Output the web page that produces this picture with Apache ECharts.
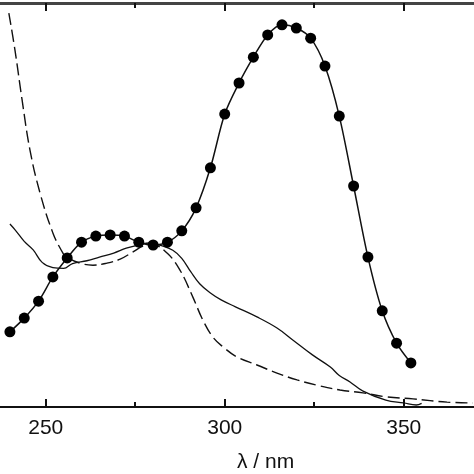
<!DOCTYPE html>
<html><head><meta charset="utf-8">
<script src="https://cdn.jsdelivr.net/npm/echarts@6/dist/echarts.min.js"></script>
<style>html,body{margin:0;padding:0;background:#fff}#c{width:474px;height:474px}</style>
</head><body><div id="c"></div>
<script>
// Dotted curve (filled circles)
const dotNm  = [240,244,248,252,256,260,264,268,272,276,280,284,288,292,296,300,304,308,312,316,320,324,328,332,336,340,344,348,352];
const dotVal = [0.186,0.220,0.262,0.322,0.369,0.408,0.423,0.426,0.423,0.408,0.401,0.408,0.436,0.493,0.592,0.725,0.802,0.866,0.921,0.946,0.938,0.913,0.844,0.720,0.547,0.371,0.238,0.158,0.109];
// Solid thin curve
const solidNm  = [240,241.5,244,246.5,249,252,255,257.5,261.5,265,269,272.5,276,279,282,285.5,288,290.5,293,296,299,303,309,314.5,319,324.5,329.5,332,335,338.5,345,350,353.5,355];
const solidVal = [0.453,0.438,0.41,0.389,0.358,0.345,0.343,0.355,0.362,0.371,0.381,0.393,0.401,0.406,0.40,0.388,0.368,0.335,0.305,0.282,0.265,0.248,0.223,0.196,0.166,0.129,0.099,0.078,0.062,0.040,0.017,0.010,0.005,0.009];
// Dashed curve
const dashNm  = [239.7,241.4,243.4,245.6,248.4,252,254.8,255.9,259.6,263.2,267.1,270.8,274.4,277.2,280,283.9,287.5,291.1,293.9,296.7,299.5,303.4,309,314.6,320.2,325.8,332.2,338.6,345.3,352.6,362.1,369.3];
const dashVal = [0.975,0.884,0.760,0.636,0.530,0.431,0.381,0.371,0.356,0.351,0.356,0.366,0.384,0.398,0.401,0.381,0.339,0.272,0.215,0.173,0.149,0.124,0.104,0.084,0.067,0.054,0.042,0.035,0.025,0.020,0.012,0.010];
// Axis ticks
const majorTicks = [250,300,350];
const minorTicks = [275,325];

const XMIN = 237.23, XMAX = 369.63;
const pairs = (xs, ys) => xs.map((x, i) => [x, ys[i]]);

const chart = echarts.init(document.getElementById('c'), null, {renderer: 'canvas'});
const base = {type: 'value', min: XMIN, max: XMAX, splitLine: {show: false}};
chart.setOption({
  animation: false,
  backgroundColor: '#fff',
  grid: {left: 0, right: 0, top: 3, bottom: 67, containLabel: false},
  xAxis: [
    Object.assign({}, base, {position: 'bottom',
      axisLine: {show: true, lineStyle: {color: '#111', width: 2}},
      axisTick: {show: true, inside: true, length: 8, customValues: majorTicks, lineStyle: {color: '#111', width: 2}},
      axisLabel: {show: true, customValues: majorTicks, fontSize: 21, color: '#111', margin: 11, fontFamily: 'Liberation Sans'}}),
    Object.assign({}, base, {position: 'bottom',
      axisLine: {show: false},
      axisTick: {show: true, inside: true, length: 5, customValues: minorTicks, lineStyle: {color: '#111', width: 2}},
      axisLabel: {show: false}}),
    Object.assign({}, base, {position: 'top',
      axisLine: {show: true, lineStyle: {color: '#444', width: 3}},
      axisTick: {show: true, inside: true, length: 8, customValues: majorTicks, lineStyle: {color: '#111', width: 2}},
      axisLabel: {show: false}}),
    Object.assign({}, base, {position: 'top',
      axisLine: {show: false},
      axisTick: {show: true, inside: true, length: 5, customValues: minorTicks, lineStyle: {color: '#111', width: 2}},
      axisLabel: {show: false}})
  ],
  yAxis: {type: 'value', min: 0, max: 1, show: false},
  graphic: [{type: 'text', left: 237, top: 452, style: {text: 'λ / nm', fontSize: 21, fill: '#111', fontFamily: 'Liberation Sans'}}],
  series: [
    {type: 'line', data: pairs(dashNm, dashVal), smooth: 0.4, showSymbol: false,
     lineStyle: {color: '#111', width: 1.4, type: [12, 5]}},
    {type: 'line', data: pairs(solidNm, solidVal), smooth: 0.4, showSymbol: false,
     lineStyle: {color: '#111', width: 1.3}},
    {type: 'line', data: pairs(dotNm, dotVal), smooth: 0.3, symbol: 'circle', symbolSize: 11, showSymbol: true,
     itemStyle: {color: '#000'}, lineStyle: {color: '#111', width: 1.5}}
  ]
});
</script>
</body></html>
